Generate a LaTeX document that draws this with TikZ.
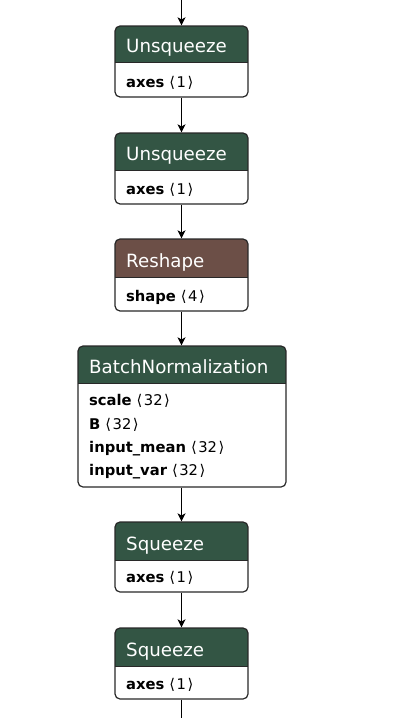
\documentclass[tikz,border=0pt]{standalone}
\usepackage{fontspec}
\setmainfont{DejaVu Sans}
\usetikzlibrary{arrows.meta,fit}
\definecolor{hdrgreen}{RGB}{51,85,68}
\definecolor{hdrbrown}{RGB}{108,79,71}
\definecolor{edgegray}{RGB}{40,40,40}
\tikzset{
  frame/.style={draw=edgegray, line width=1.2bp, rounded corners=5bp, inner sep=0pt},
  divider/.style={draw=edgegray, line width=1bp},
  hdrtext/.style={text=white, font=\fontsize{18.3}{20}\selectfont, inner sep=0pt, anchor=base west},
  rowtext/.style={text=black, font=\fontsize{14.8}{16}\selectfont, inner sep=0pt, anchor=base west},
  conn/.style={draw=black, line width=1.3bp, -{Stealth[length=8bp,width=8bp,inset=2bp]}},
  plainconn/.style={draw=black, line width=1.3bp},
}
% #1 name, #2 x1, #3 x2, #4 top, #5 divider, #6 bottom, #7 colour, #8 title
\newcommand{\opbox}[8]{%
  \begin{scope}
    \clip[rounded corners=5bp] (#2,#4) rectangle (#3,#6);
    \fill[#7] (#2,#4) rectangle (#3,#5);
  \end{scope}
  \draw[divider] (#2,#5) -- (#3,#5);
  \node[frame, fit={(#2,#4) (#3,#6)}] (#1) {};
  \node[hdrtext] (#1-title) at ({#2+11},{#5-10}) {#8};
}
\newcommand{\oprow}[5]{% name, x1, baseline, bold label, value
  \node[rowtext] (#1) at ({#2+11},#3) {\textbf{#4}\hspace{5bp}⟨\hspace{1.5bp}#5\hspace{1.5bp}⟩};
}
\begin{document}
\begin{tikzpicture}[x=1bp,y=-1bp]
\useasboundingbox (0,0) rectangle (412,718);
\fill[white] (0,0) rectangle (412,718);

\opbox{u1}{115}{248}{26}{63}{97}{hdrgreen}{Unsqueeze}
\oprow{u1-r1}{115}{87.5}{axes}{1}

\opbox{u2}{115}{248}{133}{170}{204}{hdrgreen}{Unsqueeze}
\oprow{u2-r1}{115}{194}{axes}{1}

\opbox{rs}{115}{248}{239}{277}{311}{hdrbrown}{Reshape}
\oprow{rs-r1}{115}{301}{shape}{4}

\opbox{bn}{78}{286}{346}{383}{487}{hdrgreen}{BatchNormalization}
\oprow{bn-r1}{78}{405.5}{scale}{32}
\oprow{bn-r2}{78}{429}{B}{32}
\oprow{bn-r3}{78}{452.3}{input\_mean}{32}
\oprow{bn-r4}{78}{475.6}{input\_var}{32}

\opbox{s1}{115}{248}{522}{560}{592}{hdrgreen}{Squeeze}
\oprow{s1-r1}{115}{582}{axes}{1}

\opbox{s2}{115}{248}{628}{666}{699}{hdrgreen}{Squeeze}
\oprow{s2-r1}{115}{689}{axes}{1}

\coordinate (top) at (181.5,0);
\coordinate (bot) at (181.5,718);
\draw[conn] (top) -- (u1.north);
\draw[conn] (u1.south) -- (u2.north);
\draw[conn] (u2.south) -- (rs.north);
\draw[conn] (rs.south) -- (bn.north -| top);
\draw[conn] (bn.south -| top) -- (s1.north);
\draw[conn] (s1.south) -- (s2.north);
\draw[plainconn] (s2.south) -- (bot);
\end{tikzpicture}
\end{document}
